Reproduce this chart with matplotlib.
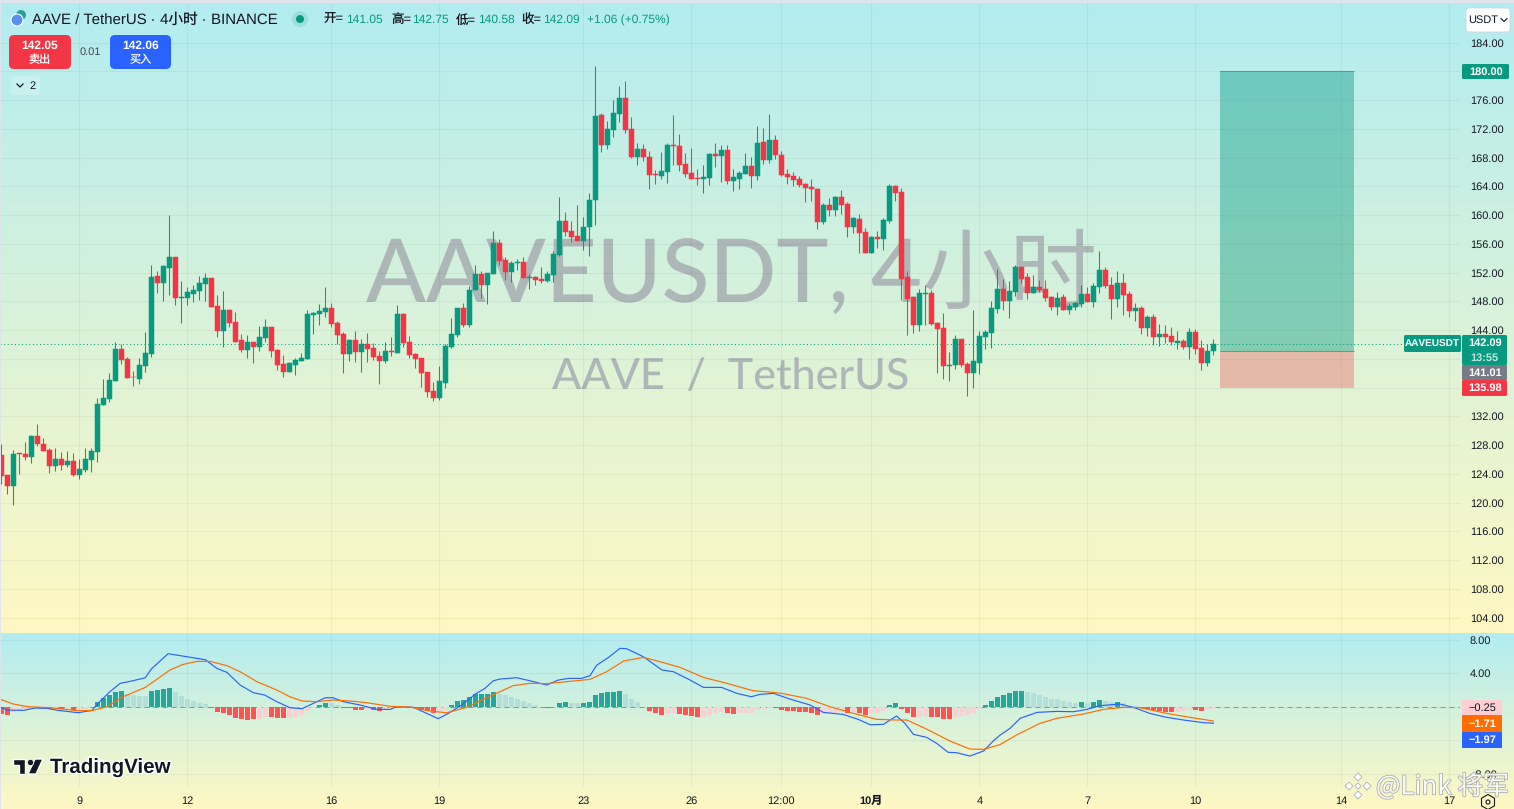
import numpy as np
import matplotlib
matplotlib.use("Agg")
import matplotlib.pyplot as plt
from matplotlib.patches import FancyBboxPatch, Rectangle, Polygon, Circle, RegularPolygon
import matplotlib.patheffects as pe

plt.rcParams['font.family'] = ['Liberation Sans', 'Noto Sans CJK SC', 'DejaVu Sans']
plt.rcParams['text.hinting'] = 'no_hinting'
plt.rcParams['text.hinting_factor'] = 1

# ---------------- data ----------------
highs = [128.2,123.8,127.3,126.9,128.4,129.4,130.9,129.0,127.6,127.6,
127.0,127.2,126.9,126.0,127.6,127.6,134.5,137.2,138.0,142.3,
142.1,140.2,138.3,140.1,143.7,153.0,152.2,153.0,160.0,154.1,
150.8,150.0,150.3,151.5,151.9,151.2,148.9,149.4,146.9,146.5,
143.4,143.3,142.3,144.5,145.6,144.4,141.3,140.5,139.5,140.1,
140.8,146.8,146.5,147.6,150.0,147.7,145.2,143.7,142.7,143.8,
142.7,143.6,142.2,141.1,142.3,143.0,147.5,146.4,143.2,140.8,
140.1,138.2,136.8,139.0,142.1,145.7,147.1,147.8,150.1,153.0,
152.2,151.9,157.8,156.7,154.2,153.6,153.9,154.2,151.8,151.5,
152.8,152.2,155.0,162.5,160.4,159.2,161.4,159.7,163.1,180.7,
174.2,173.1,176.0,178.0,178.6,173.6,170.0,169.9,168.9,166.3,
168.8,170.0,173.9,171.3,168.6,169.3,166.4,167.0,168.6,170.0,
169.7,169.7,166.4,166.1,168.6,168.1,172.4,172.1,174.1,171.1,
168.9,166.4,166.0,165.4,164.5,165.0,163.8,161.7,162.4,162.6,
163.5,161.8,159.7,160.1,158.2,157.1,157.8,159.6,164.3,164.2,
163.8,152.2,148.7,149.7,150.3,149.6,145.1,146.4,140.9,143.3,
142.7,139.5,146.8,143.9,144.0,148.0,152.5,151.1,150.8,153.0,
152.9,151.9,151.7,151.0,151.0,148.7,149.3,149.0,147.8,147.9,
150.3,150.0,150.5,155.0,152.8,151.4,152.2,151.9,149.4,147.8,
147.3,146.1,146.2,144.8,144.7,144.4,143.9,142.7,144.3,144.2,
142.6,142.1,142.75]
lows = [122.6,121.2,119.6,124.0,125.9,125.5,127.9,127.2,124.1,124.4,
124.5,124.9,123.7,123.3,124.2,124.2,125.6,133.6,134.0,136.9,
139.3,137.3,136.2,136.5,138.1,140.2,149.1,148.0,148.9,147.5,
145.0,147.5,147.9,148.2,148.0,147.2,143.0,141.6,144.4,142.3,
140.9,140.1,139.4,141.1,142.4,140.2,138.5,137.4,138.1,137.7,
139.7,139.9,143.4,144.7,145.8,144.4,142.0,138.0,139.7,139.5,
138.1,139.5,139.8,136.5,139.4,140.4,140.8,141.6,140.1,138.7,
136.1,134.7,134.1,134.3,135.9,141.5,143.0,144.4,144.4,149.6,
148.5,147.6,151.8,153.0,151.0,150.7,152.4,151.2,149.7,150.3,
150.5,150.7,150.7,154.3,157.1,156.2,156.4,155.1,154.3,158.6,
168.8,169.2,170.9,173.0,171.4,168.0,167.0,167.5,163.6,164.3,
165.0,164.5,167.0,166.1,165.3,165.0,164.2,163.1,164.2,166.7,
164.6,164.3,163.3,163.6,165.7,163.8,164.9,167.1,167.2,167.8,
165.4,164.3,164.0,163.9,161.8,162.0,158.1,158.7,159.9,159.9,
160.1,157.0,157.5,154.7,154.7,154.7,155.4,155.1,158.9,162.0,
148.2,143.3,143.6,143.9,144.7,144.7,138.0,137.2,136.9,138.6,
138.8,134.8,135.9,137.9,141.4,141.5,146.4,146.8,145.7,148.7,
150.5,148.3,149.2,149.3,148.0,146.8,146.1,146.8,146.2,146.8,
147.2,147.9,147.2,149.2,149.8,145.5,147.2,146.1,145.8,145.2,
143.4,143.2,141.9,141.8,142.2,141.9,141.4,141.4,140.0,140.7,
138.4,139.0,140.58]
opens = [126.6,123.8,122.3,126.9,126.7,126.3,129.2,128.1,127.3,125.1,
126.0,125.2,125.8,123.8,124.5,125.9,127.0,133.6,134.4,136.9,
141.3,139.9,137.5,137.2,139.0,140.6,151.5,150.5,152.6,154.1,
148.4,148.4,149.0,149.4,150.4,151.2,147.3,143.8,146.8,145.1,
142.6,141.2,142.3,141.6,142.9,144.4,141.2,139.2,138.1,139.2,
139.7,139.9,146.1,146.2,146.5,147.1,145.0,143.4,140.6,142.6,
140.9,142.0,141.5,140.4,139.7,141.1,140.8,146.2,142.3,140.7,
140.1,138.2,135.5,134.5,136.6,141.6,143.3,147.1,144.7,149.6,
151.8,150.3,151.8,156.1,153.7,152.1,153.3,153.5,151.2,151.4,
151.1,150.8,151.7,154.4,159.2,157.8,157.1,156.4,158.3,162.1,
173.9,169.7,171.8,174.1,176.3,172.0,168.1,169.2,168.1,165.7,
165.4,166.0,169.7,169.6,167.1,165.8,165.1,165.0,165.1,168.5,
168.2,169.1,164.7,165.0,165.7,166.8,165.4,170.2,167.7,170.4,
168.4,165.7,165.4,165.0,164.3,163.9,163.6,159.0,161.4,160.7,
162.5,161.5,158.3,159.4,157.6,154.7,157.0,156.7,159.2,164.0,
163.2,151.4,148.6,144.7,149.0,149.2,145.0,144.3,139.0,139.1,
142.7,139.3,138.0,139.4,143.0,143.6,146.9,149.7,148.0,149.3,
152.8,151.4,149.2,150.0,149.7,148.6,147.2,148.6,146.8,147.2,
147.6,149.0,147.9,150.0,152.3,150.3,148.3,150.5,149.0,146.7,
147.1,144.3,145.8,143.0,143.4,143.2,142.2,142.5,141.6,143.7,
141.5,139.4,141.05]
closes = [123.7,122.3,126.8,126.7,126.3,129.2,128.1,127.2,125.1,126.0,
125.2,125.8,123.8,124.6,126.0,127.2,133.7,134.5,137.0,141.3,
139.8,137.3,137.4,139.1,140.8,151.4,150.5,152.9,154.1,148.4,
148.6,149.3,149.6,150.5,151.2,147.2,143.8,146.8,145.0,142.3,
141.2,142.3,141.6,143.0,144.4,141.1,139.1,138.1,139.4,139.8,
140.1,146.2,146.4,146.6,147.1,144.8,143.3,140.6,142.6,140.9,
142.0,141.3,140.2,139.7,141.1,140.9,146.2,142.2,140.5,140.0,
138.0,135.4,134.5,136.9,141.8,143.4,147.1,144.7,149.6,151.8,
150.3,151.9,156.1,153.6,152.1,153.3,153.5,151.2,151.4,151.0,
150.8,151.8,154.6,159.2,157.6,156.9,156.4,158.3,162.1,173.8,
169.7,172.0,174.2,176.3,171.8,168.1,169.2,168.0,165.6,165.6,
166.1,169.7,169.6,167.0,165.7,165.0,165.0,165.3,168.5,168.2,
169.1,164.7,165.3,165.8,166.8,165.4,170.0,167.7,170.4,168.4,
165.6,165.3,164.9,164.2,163.8,163.6,159.0,161.4,160.7,162.5,
161.4,158.3,159.6,157.5,154.7,157.0,156.7,159.3,164.0,163.1,
151.1,148.3,144.7,149.2,149.2,144.8,144.1,139.0,139.1,142.7,
139.1,138.0,139.7,143.2,143.7,147.1,149.7,148.0,149.4,152.8,
151.1,149.2,150.0,149.6,148.5,147.2,148.5,146.8,147.3,147.8,
149.0,147.9,150.1,152.3,150.1,148.3,150.5,148.9,146.7,147.1,
144.3,145.8,143.0,143.4,143.0,142.3,142.5,141.6,143.7,141.4,
139.4,141.1,142.09]

hist = [-0.88,-1.00,-0.60,-0.48,-0.24,-0.12,-0.08,-0.12,-0.32,-0.12,
-0.32,-0.24,-0.36,-0.32,-0.24,-0.08,0.60,1.00,1.40,1.80,
1.88,1.52,1.44,1.28,1.28,1.88,2.00,2.16,2.24,1.76,
1.28,0.92,0.72,0.44,0.32,-0.16,-0.64,-0.80,-1.04,-1.36,
-1.52,-1.60,-1.52,-1.52,-1.20,-1.28,-1.36,-1.36,-1.32,-1.20,
-0.96,-0.52,-0.12,0.20,0.48,0.40,0.20,-0.16,-0.20,-0.40,
-0.40,-0.36,-0.40,-0.48,-0.32,-0.20,-0.08,-0.04,-0.08,-0.20,
-0.40,-0.56,-0.72,-0.68,-0.40,0.20,0.68,0.80,1.12,1.52,
1.52,1.52,1.80,1.52,1.40,1.12,0.96,0.68,0.40,0.20,
-0.08,-0.20,-0.04,0.40,0.56,0.40,0.40,0.44,0.56,1.36,
1.60,1.76,1.76,1.88,1.52,0.88,0.52,-0.08,-0.52,-0.72,
-0.96,-0.80,-0.72,-0.84,-1.00,-1.12,-1.20,-1.20,-1.00,-0.72,
-0.60,-0.72,-0.84,-0.80,-0.72,-0.72,-0.36,-0.32,-0.12,-0.12,
-0.40,-0.48,-0.48,-0.60,-0.68,-0.72,-0.96,-0.84,-0.72,-0.72,
-0.60,-0.72,-0.60,-0.72,-1.00,-0.80,-0.72,-0.48,0.16,0.44,
-0.24,-0.72,-1.20,-1.20,-1.12,-1.20,-1.20,-1.44,-1.52,-1.20,
-1.12,-1.00,-0.72,-0.24,0.16,0.64,1.12,1.40,1.60,1.88,
1.88,1.76,1.60,1.36,1.20,0.92,0.92,0.68,0.56,0.44,
0.56,0.44,0.56,0.80,0.68,0.56,0.56,0.40,0.12,0.04,
-0.20,-0.32,-0.40,-0.48,-0.60,-0.64,-0.60,-0.48,-0.36,-0.40,
-0.48,-0.36,-0.25]
hist_shade = ("RRrrrrrRRr" "RrRrrrGGGG" "GggggGGGGg" "gggggRRRRR"
              "RRRrrRRRrr" "rrrGGggRRR" "RrRRrrrrRR" "RRRrrGGGGG"
              "GGGggggggg" "RRrGGggGGG" "GGGGgggRRR" "RrrRRRRrrr"
              "rRRrrrrrrR" "RRRRRRRrrr" "rRrRRrrrGG" "RRRrrRRRRr"
              "rrrrGGGGGG" "Ggggggggg" "g" "GgGGggGggg" "RRRRRRrrrR" "Rrr")

macd_idx = [0,0.9,3.7,5.6,7.6,9.5,12.8,15.1,16.4,18.1,19.8,21.7,24,25,27.8,30.9,34,35.9,37.6,39.8,
42,43.9,45.9,48.1,50.1,52,54,55.3,57,59.8,62.6,64.8,65.9,68.7,70.9,72.8,74.5,76.7,79,80.6,
82,83.1,85.9,88.1,90.9,92.8,94.5,96.7,98.1,99.2,101.2,103.1,104.2,107,110.1,112,114.8,117,120,122.6,
125,126.4,128.7,131.4,134.8,137,140.3,142.8,144.8,147,149.2,150.6,152,154.2,155.9,157.8,159.2,161.4,163.7,165.3,
166.4,168.1,169.8,172.6,175.9,178.7,180.9,183.1,186.4,188.7,191.4,194.2,197,200.4,202]
macd_vals = [-0.08,-0.40,-0.44,-0.16,-0.20,-0.44,-0.72,-0.44,0.60,1.79,2.79,3.06,3.46,4.50,6.33,5.97,5.61,4.58,4.10,2.59,
1.67,1.39,0.60,-0.12,-0.24,0.40,1.07,1.07,0.60,0.20,-0.32,-0.32,0,-0.08,-0.80,-1.43,-0.80,0.20,1.51,2.19,
3.10,3.30,3.46,3.10,2.59,3.18,3.38,3.38,3.70,4.94,5.89,6.97,6.93,5.97,4.38,4.18,3.18,2.31,2.31,1.59,
1.19,1.47,1.59,0.92,0.20,-0.68,-0.92,-1.51,-2.15,-2.11,-1.11,-1.99,-3.30,-3.66,-4.38,-5.45,-5.49,-5.89,-5.29,-4.10,
-3.42,-2.59,-1.39,-0.68,-0.56,-0.60,-0.32,0.12,0.32,-0.08,-0.80,-1.27,-1.59,-1.91,-1.97]
signal_idx = [0,2,4.5,8.1,12.8,15.3,17.6,20.3,24,25.9,28.1,30.3,32.6,34.8,37.6,39.8,42.6,45.9,48.1,50.1,
52.6,55.3,58.1,60.9,64.8,68.1,71.4,74.2,77.6,80.3,83.1,85.3,88.1,90.9,94.2,98.1,100.9,103.7,107,109.8,
113.1,117,120.9,125.3,129.8,134.2,138.1,142,145.9,149.2,150.9,154.2,158.1,161.4,163.7,166.4,169.2,173.1,175.9,180.3,
183.7,187,189.8,194.2,198.1,202]
signal_vals = [0.84,0.32,0,-0.12,-0.48,-0.44,0,1.19,2.31,3.26,4.38,5.05,5.41,5.41,4.90,4.18,2.99,1.99,1.19,0.68,
0.60,0.80,0.68,0.48,0.04,-0.04,-0.52,-0.72,-0.08,0.88,1.79,2.51,2.79,2.75,2.99,3.26,4.18,5.45,5.89,5.37,
4.70,3.50,2.79,1.91,1.63,1.00,0,-0.80,-1.51,-1.59,-1.59,-2.67,-4.10,-5.05,-5.09,-4.54,-3.38,-1.99,-1.39,-0.88,
-0.32,-0.08,-0.12,-0.80,-1.27,-1.71]

time_ticks = [13, 31, 55, 73, 97, 115, 130, 145, 163, 181, 199, 223.35, 241.35]
time_labels = ['9', '12', '16', '19', '23', '26', '12:00', '10月', '4', '7', '10', '14', '17']
price_ticks = list(range(104, 188, 4))
macd_ticks = [8, 4, 0, -4, -8]
macd_tick_labels = ['8.00', '4.00', '', '', '\u22128.00']
target_price, entry_price, stop_price = 180.00, 141.01, 135.98
trade_start, trade_end = 203.1, 225.4
last_price = closes[-1]

GREEN = '#089981'; RED = '#f23645'; BLUE = '#2962ff'; ORANGE = '#ff6d00'; DARK = '#131722'
HCOL = {'G': '#26a69a', 'g': '#b2dfdb', 'R': '#ff5252', 'r': '#ffcdd2'}
W, H = 1514, 809
CJK = ['Noto Sans CJK SC', 'DejaVu Sans']
LAT = ['Liberation Sans', 'Noto Sans CJK SC', 'DejaVu Sans']
GRID_KW = dict(color='#2a2e39', alpha=0.055, lw=0.8)

fig = plt.figure(figsize=(W / 100, H / 100), dpi=100)

def px_axes(x0, y0, x1, y1, **kw):
    return fig.add_axes([x0 / W, 1 - y1 / H, (x1 - x0) / W, (y1 - y0) / H], **kw)

# background gradient panes
bg = px_axes(0, 0, W, H, zorder=0)
c_top = np.array([178, 236, 241]) / 255
c_bot = np.array([255, 248, 195]) / 255
rows = np.zeros((H, 1, 3))
for y in range(H):
    t = y / 632 if y < 633 else (y - 633) / (H - 633)
    rows[y, 0] = c_top + (c_bot - c_top) * min(t, 1)
bg.imshow(rows, aspect='auto', extent=(0, W, H, 0), interpolation='nearest')
bg.set_xlim(0, W); bg.set_ylim(H, 0); bg.axis('off')

xlim = (-0.22, 243.1)

# main pane
ax = px_axes(0, 3, 1460, 632, zorder=1)
ax.patch.set_alpha(0)
ax.set_xlim(*xlim)
ax.set_ylim(144 - (632 - 330) / 7.1875, 144 + (330 - 3) / 7.1875)
ax.set_xticks(time_ticks); ax.set_xticklabels([])
ax.yaxis.tick_right()
ax.set_yticks(price_ticks)
ax.set_yticklabels([f'{p:.2f}' for p in price_ticks], fontsize=7.9, color=DARK)
ax.tick_params(length=0, axis='both', pad=7)
ax.grid(True, **GRID_KW)
ax.set_axisbelow(True)
for s in ax.spines.values():
    s.set_visible(False)

# watermarks
bg.text(732, 274, 'AAVEUSDT, 4小时', fontsize=63, color='#aeb7b7', ha='center', va='center',
        family=['Lato', 'Noto Sans CJK SC'], fontweight='medium', zorder=2)
bg.text(731, 377, 'AAVE  /  TetherUS', fontsize=30.8, color='#aeb7b7', ha='center', va='center',
        family=['Lato', 'Noto Sans CJK SC'], fontweight='medium', zorder=2)

# position tool
ax.add_patch(Rectangle((trade_start, entry_price), trade_end - trade_start, target_price - entry_price,
                       facecolor=GREEN, alpha=0.42, lw=0, zorder=2))
ax.add_patch(Rectangle((trade_start, stop_price), trade_end - trade_start, entry_price - stop_price,
                       facecolor=RED, alpha=0.30, lw=0, zorder=2))
ax.hlines([target_price, entry_price], trade_start, trade_end, color='#787b86', lw=0.72, alpha=0.8, zorder=2.1)

# price line
ax.axhline(last_price, xmax=1404 / 1460, color=GREEN, lw=0.72, ls=(0, (1, 2.6)), zorder=2.5)

# candles
idx = np.arange(len(closes))
o = np.array(opens); c = np.array(closes)
colors = [GREEN if a >= b else RED for a, b in zip(c, o)]
ax.vlines(idx, lows, highs, colors=colors, lw=0.75, zorder=3)
ax.bar(idx, np.abs(c - o), bottom=np.minimum(o, c), width=0.76, color=colors,
       edgecolor=colors, linewidth=0.35, zorder=4)

# MACD pane
m = px_axes(0, 633, 1460, 787, zorder=1)
m.patch.set_alpha(0)
m.set_xlim(*xlim)
m.set_ylim((706.7 - 787) / 8.375, (706.7 - 633) / 8.375)
m.set_xticks(time_ticks)
m.set_xticklabels(time_labels, fontsize=7.9, color=DARK)
m.yaxis.tick_right()
m.set_yticks(macd_ticks)
m.set_yticklabels(macd_tick_labels, fontsize=7.9, color=DARK)
m.tick_params(axis='y', length=0, pad=7)
m.tick_params(axis='x', length=0, pad=6.5)
m.grid(True, **GRID_KW)
m.set_axisbelow(True)
for s in m.spines.values():
    s.set_visible(False)
for t in m.get_xticklabels():
    if t.get_text() == '10月':
        t.set_fontweight('bold')
m.axhline(0, color='#787b86', lw=0.72, ls=(0, (5, 4)), alpha=0.75, zorder=1.5)
m.bar(idx, hist, width=0.8, color=[HCOL[k] for k in hist_shade], lw=0, zorder=2)
m.plot(macd_idx, macd_vals, color=BLUE, lw=0.85, zorder=3)
m.plot(signal_idx, signal_vals, color=ORANGE, lw=0.85, zorder=3.1)

# overlay: labels and widgets in pixel space
ov = px_axes(0, 0, W, H, zorder=5)
ov.patch.set_alpha(0)
ov.set_xlim(0, W); ov.set_ylim(H, 0); ov.axis('off')

def box(x0, y0, x1, y1, color, r=1.5, ec='none', lw=0, alpha=1):
    ov.add_patch(FancyBboxPatch((x0 + r, y0 + r), x1 - x0 - 2 * r, y1 - y0 - 2 * r,
                                boxstyle=f'round,pad={r},rounding_size={r}',
                                facecolor=color, edgecolor=ec, lw=lw, alpha=alpha, mutation_aspect=1))

def txt(x, y, s, size=7.9, color=DARK, ha='center', weight='normal', family=LAT, **kw):
    return ov.text(x, y, s, fontsize=size, color=color, ha=ha, va='center', fontweight=weight, family=family, **kw)

# page edges
ov.add_patch(Rectangle((0, 0), W, 3, facecolor='#e0e3eb', lw=0))
ov.add_patch(Rectangle((0, 0), 1, H, facecolor='#e0e3eb', lw=0))

# header
ov.add_patch(Circle((21, 15), 5, facecolor='#2aa198', lw=0))
ov.add_patch(Circle((17, 20), 6, facecolor='#5b8def', edgecolor='white', lw=0.8))
txt(32, 20, 'AAVE / TetherUS · 4小时 · BINANCE', size=10.55, ha='left')
ov.add_patch(Circle((300, 19), 8, facecolor=GREEN, alpha=0.15, lw=0))
ov.add_patch(Circle((300, 19), 4, facecolor=GREEN, lw=0))
for lx, lab, vx, val in [(324, '开=', 346, '141.05'), (391, '高=', 412, '142.75'),
                         (456, '低=', 478, '140.58'), (521, '收=', 543, '142.09')]:
    txt(lx, 20, lab, size=9, ha='left')
    txt(vx, 20, val, size=8.9, ha='left', color=GREEN)
txt(587, 20, '+1.06 (+0.75%)', size=8.8, ha='left', color=GREEN)

# buy and sell buttons
box(9, 35, 71, 69, RED, r=5)
txt(40, 45.5, '142.05', size=8.3, color='white', weight='bold')
txt(40, 60, '卖出', size=8, color='white')
txt(90, 52, '0.01', size=8, color='#434651')
box(110, 35, 171, 69, BLUE, r=5)
txt(141, 45.5, '142.06', size=8.3, color='white', weight='bold')
txt(141, 60, '买入', size=8, color='white')
box(11, 76, 40, 95, '#ffffff', r=2, alpha=0.18)
ov.plot([17, 20, 23], [84, 87, 84], color=DARK, lw=0.9)
txt(33, 86, '2', size=8)

# right labels
box(1466, 8, 1510, 32, 'white', r=3, ec='#d1d4dc', lw=0.6)
txt(1483, 20, 'USDT', size=7.7)
ov.plot([1501, 1504, 1507], [18.5, 21.5, 18.5], color=DARK, lw=0.8)
box(1462, 64, 1509, 79, GREEN)
txt(1486, 72, '180.00', color='white', weight='bold')
box(1404, 335, 1461, 352, GREEN)
txt(1432.5, 344, 'AAVEUSDT', size=7.2, color='white', weight='bold')
box(1462, 335, 1507, 365, GREEN)
txt(1485, 343.5, '142.09', color='white', weight='bold')
txt(1484, 358, '13:55', size=7.6, color='#bfe6dd', weight='bold')
box(1462, 365, 1507, 380, '#787b86', r=0.5)
txt(1485, 373, '141.01', color='white', weight='bold')
box(1462, 380, 1507, 396, RED)
txt(1485, 388, '135.98', color='white', weight='bold')
box(1462, 700, 1502, 715, '#ffcdd2', r=0.5)
txt(1482, 708, '\u22120.25')
box(1462, 715, 1502, 732, ORANGE, r=0.5)
txt(1482, 724, '\u22121.71', color='white', weight='bold')
box(1462, 732, 1502, 748, BLUE, r=0.5)
txt(1482, 740, '\u22121.97', color='white', weight='bold')

# settings glyph
ov.add_patch(RegularPolygon((1488, 802), 6, radius=7.5, facecolor='none', edgecolor=DARK, lw=0.8))
ov.add_patch(Circle((1488, 802), 2, facecolor='none', edgecolor=DARK, lw=0.8))

# TradingView mark
halo = [pe.withStroke(linewidth=2.2, foreground='white')]
for pts in ([(13, 759), (25, 759), (25, 774), (19, 774), (19, 765), (13, 765)],
            [(35, 759), (43, 759), (36, 774), (28, 774)]):
    ov.add_patch(Polygon(pts, closed=True, facecolor=DARK, edgecolor='white', lw=1))
ov.add_patch(Circle((30.5, 762.5), 3.2, facecolor=DARK, edgecolor='white', lw=0.6))
txt(50, 767.5, 'TradingView', size=14.8, ha='left', weight='bold', path_effects=halo)

# author mark
mark = [pe.withStroke(linewidth=1.2, foreground='#a8a8a8')]
txt(1376, 787, '@Link 将军', size=18.6, ha='left', color='white', family=CJK, alpha=0.9, path_effects=mark)
for cx, cy, r in [(1358, 777, 4), (1358, 795, 4), (1349, 786, 4), (1367, 786, 4), (1358, 786, 3)]:
    ov.add_patch(RegularPolygon((cx, cy), 4, radius=r, facecolor='white', edgecolor='#b0b0b0', lw=0.6))

fig.savefig('out.png', dpi=100)
